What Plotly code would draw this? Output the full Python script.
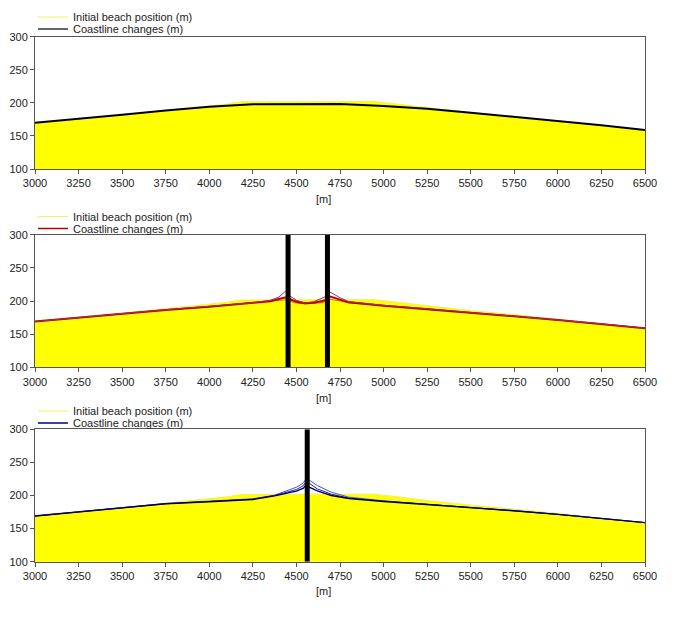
import plotly.graph_objects as go

# ---------------- data ----------------
x_init = [3000, 3250, 3500, 3750, 4000, 4100, 4180, 4940, 5050, 5250, 5500, 5750, 6000, 6250, 6500]
y_init = [170, 175.5, 182, 188.5, 194.5, 198, 201.5, 202, 199, 192.5, 185.5, 179.5, 173, 166, 159]

x_p1 = [3000, 3250, 3500, 3750, 4000, 4250, 4500, 4750, 5000, 5250, 5500, 5750, 6000, 6250, 6500]
y_p1 = [170, 175.5, 182, 188.5, 194, 197.8, 198.3, 198.3, 195.2, 191, 185, 179, 173, 166, 159]

x_p2 = [3000, 3250, 3500, 3750, 4000, 4250, 4350, 4400, 4445, 4460, 4500, 4550, 4600, 4650,
        4670, 4690, 4750, 4800, 5000, 5250, 5500, 5750, 6000, 6250, 6500]
y_p2_a = [169, 175, 181.5, 187, 192, 197.5, 201, 206, 216.5, 208, 201, 197, 199, 204,
          207, 214, 205, 199, 193.5, 188.5, 183, 177.5, 172, 165.5, 159]
y_p2_b = [169, 175, 181.5, 186.5, 191.5, 197, 199.5, 203, 206, 203, 199, 196.5, 197.5, 200,
          202, 207, 202, 198, 193, 188, 183, 177, 171.5, 165, 159]
y_p2_c = [169, 175, 181.5, 186.5, 191.5, 197, 199, 200.5, 202, 200, 197, 195.5, 196, 197.5,
          199, 203, 200, 197, 193, 188, 183, 177, 171.5, 165, 159]
groynes_p2 = [4452, 4678]

x_p3 = [3000, 3250, 3500, 3750, 4000, 4250, 4375, 4450, 4500, 4540, 4555, 4570, 4620, 4700,
        4800, 5000, 5250, 5500, 5750, 6000, 6250, 6500]
y_p3_a = [169, 175, 181, 188, 191.5, 195, 200.5, 207, 212.5, 219, 225, 224, 215, 205,
          197.5, 192, 187, 182, 177, 171.5, 165.5, 159]
y_p3_b = [169, 175, 181, 187.5, 191, 194.5, 200, 205, 209, 215, 221, 219, 210, 202,
          196, 191.5, 187, 182, 177, 171.5, 165.5, 159]
y_p3_c = [169, 175, 181, 187.5, 190.5, 194, 199.5, 203.5, 206.5, 211, 216, 213, 207, 200,
          195.5, 191, 186.5, 182, 177, 171.5, 165.5, 159]
groynes_p3 = [4562]

x_ticks = [3000, 3250, 3500, 3750, 4000, 4250, 4500, 4750, 5000, 5250, 5500, 5750, 6000, 6250, 6500]
y_ticks = [100, 150, 200, 250, 300]
x_range = [3000, 6500]
y_range = [100, 300]

label_init = "Initial beach position (m)"
label_coast = "Coastline changes (m)"
x_label = "[m]"

# ---------------- figure ----------------
W, H = 675, 618
FONT = "Liberation Sans, Arial, sans-serif"
YELLOW = "#ffff00"

fig = go.Figure()

panels = [
    dict(xa="x", ya="y", lg=("legend", "legend2"), coast=[(x_p1, y_p1, "#000000", 2)],
         legcolor="#333333", groynes=[]),
    dict(xa="x2", ya="y2", lg=("legend3", "legend4"),
         coast=[(x_p2, y_p2_c, "#d07020", 1), (x_p2, y_p2_b, "#c00000", 2), (x_p2, y_p2_a, "#903070", 1)],
         legcolor="#b00000", groynes=groynes_p2),
    dict(xa="x3", ya="y3", lg=("legend5", "legend6"),
         coast=[(x_p3, y_p3_a, "#5050c8", 1), (x_p3, y_p3_b, "#2020a0", 1), (x_p3, y_p3_c, "#000060", 1.4)],
         legcolor="#000080", groynes=groynes_p3),
]

for p in panels:
    fig.add_trace(go.Scatter(x=x_init, y=y_init, xaxis=p["xa"], yaxis=p["ya"], mode="lines",
                             line=dict(color=YELLOW, width=0), fill="tozeroy", fillcolor=YELLOW,
                             showlegend=False, hoverinfo="skip"))
    fig.add_trace(go.Scatter(x=x_init, y=y_init, xaxis=p["xa"], yaxis=p["ya"], mode="lines",
                             line=dict(color="#f0f060", width=1), name=label_init,
                             legend=p["lg"][0], showlegend=True))
    for i, (xs, ys, col, w) in enumerate(p["coast"]):
        fig.add_trace(go.Scatter(x=xs, y=ys, xaxis=p["xa"], yaxis=p["ya"], mode="lines",
                                 line=dict(color=col, width=w), name=label_coast,
                                 legend=p["lg"][1], showlegend=False))
    fig.add_trace(go.Scatter(x=[None], y=[None], xaxis=p["xa"], yaxis=p["ya"], mode="lines",
                             line=dict(color=p["legcolor"], width=1.5), name=label_coast,
                             legend=p["lg"][1], showlegend=True))
    for g in p["groynes"]:
        fig.add_trace(go.Scatter(x=[g, g], y=y_range, xaxis=p["xa"], yaxis=p["ya"], mode="lines",
                                 line=dict(color="#000000", width=5), showlegend=False,
                                 hoverinfo="skip"))

# geometry (pixels)
x0, x1 = 35, 645
rows = [(36.7, 169.0), (234.7, 367.3), (429.3, 561.7)]
leg_y = [(17, 29), (216.5, 228.5), (411, 423)]
lab_y = [199, 398, 591]

def px_x(v):
    return v / W

def px_y(v):
    return 1 - v / H

axis_common = dict(showline=True, mirror=True, linecolor="#555555", linewidth=1,
                   ticks="outside", ticklen=4, tickcolor="#555555", showgrid=False,
                   zeroline=False, tickfont=dict(family=FONT, size=11, color="#222222"),
                   fixedrange=True, automargin=False)

layout = dict(width=W, height=H, margin=dict(l=0, r=0, t=0, b=0, autoexpand=False),
              plot_bgcolor="white", paper_bgcolor="white",
              font=dict(family=FONT, size=11, color="#222222"), annotations=[])

for i, (top, bot) in enumerate(rows):
    sx = "" if i == 0 else str(i + 1)
    layout["xaxis" + sx] = dict(axis_common, domain=[px_x(x0), px_x(x1)], anchor="y" + sx,
                                range=x_range, tickvals=x_ticks)
    layout["yaxis" + sx] = dict(axis_common, domain=[px_y(bot), px_y(top)], anchor="x" + sx,
                                range=y_range, tickvals=y_ticks)
    for j, yc in enumerate(leg_y[i]):
        key = "legend" if (i == 0 and j == 0) else "legend" + str(2 * i + j + 1)
        layout[key] = dict(x=px_x(33), xanchor="left", y=px_y(yc), yanchor="middle",
                           xref="container", yref="container",
                           bgcolor="rgba(0,0,0,0)", borderwidth=0,
                           font=dict(family=FONT, size=11, color="#222222"))
    layout["annotations"].append(dict(text=x_label, x=px_x(323), y=px_y(lab_y[i]), xref="paper",
                                      yref="paper", showarrow=False, xanchor="center",
                                      yanchor="middle", font=dict(family=FONT, size=11, color="#222222")))

fig.update_layout(**layout)
fig.write_html("out.html")
